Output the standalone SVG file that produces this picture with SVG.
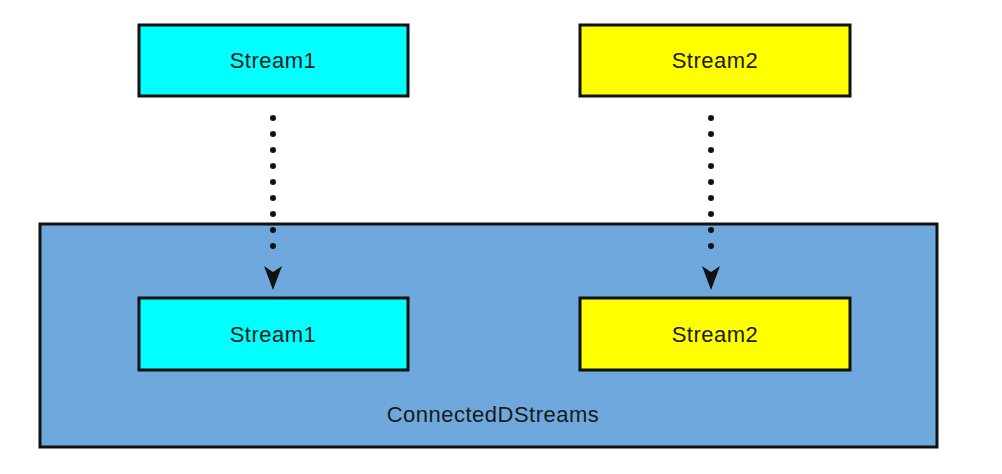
<svg xmlns="http://www.w3.org/2000/svg" width="1002" height="474" viewBox="0 0 1002 474">
<style>
.box{stroke:#111;stroke-width:3}
.c{fill:#00FFFF}.y{fill:#FFFF00}
.t{font-family:"Liberation Sans",Arial,sans-serif;font-size:22px;fill:#1a1a1a;text-anchor:middle;dominant-baseline:central;letter-spacing:0.5px}
.d{stroke:#111;stroke-width:6;stroke-linecap:round;stroke-dasharray:0 16;fill:none}
</style>
<defs><marker id="ah" viewBox="0 0 10 10" refX="5" refY="8" markerWidth="5" markerHeight="5" orient="auto-start-reverse" markerUnits="userSpaceOnUse"><path d="M0,0 L5,3 L10,0 L5,10 Z" fill="#111"/></marker></defs>
<rect width="1002" height="474" fill="#fff"/>
<g id="container"><rect class="box" x="40" y="224" width="897" height="223" fill="#6FA8DC"/><text class="t" x="493" y="414">ConnectedDStreams</text></g>
<g id="s1top"><rect class="box c" x="139" y="25" width="269" height="71"/><text class="t" x="273" y="60">Stream1</text></g>
<g id="s2top"><rect class="box y" x="580" y="25" width="270" height="71"/><text class="t" x="715" y="60">Stream2</text></g>
<g id="s1in"><rect class="box c" x="139" y="298" width="269" height="72"/><text class="t" x="273" y="334">Stream1</text></g>
<g id="s2in"><rect class="box y" x="580" y="298" width="270" height="72"/><text class="t" x="715" y="334">Stream2</text></g>
<g id="connectors">
<path class="d" d="M273,118 L273,262"/>
<path d="M264,266 L273,272 L282,266 L273,290 Z" fill="#111"/>
<path class="d" d="M711,118 L711,262"/>
<path d="M702,266 L711,272 L720,266 L711,290 Z" fill="#111"/>
</g>
</svg>
